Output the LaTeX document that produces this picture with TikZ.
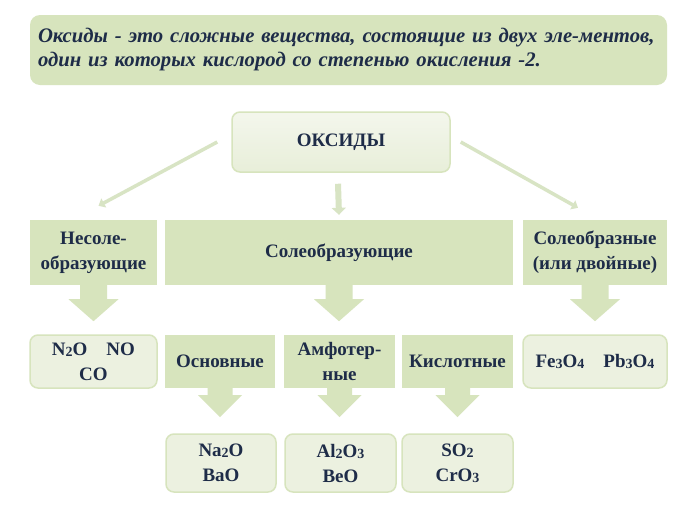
\documentclass[tikz,border=0pt]{standalone}
\usepackage{fontspec}
\setmainfont{Liberation Serif}
\usetikzlibrary{calc,arrows.meta}
\definecolor{navy}{RGB}{30,44,72}
\definecolor{boxg}{RGB}{215,228,189}
\definecolor{lightg}{RGB}{236,241,224}
\definecolor{lineg}{RGB}{216,228,196}
\newcommand{\sbs}[1]{{\fontsize{14}{12}\selectfont\raisebox{-1pt}{#1}}}
\newcommand{\bkarrow}[5]{% node, stem length, head length, stem half width, head half width
  \begin{scope}[shift={(#1.south)}]
    \fill[boxg] (-#4,-1) -- (-#4,#2) -- (-#5,#2) -- (0,{#2+#3}) -- (#5,#2) -- (#4,#2) -- (#4,-1) -- cycle;
  \end{scope}}
\tikzset{
  lbl/.style={font=\fontsize{19}{25}\selectfont\bfseries, text=navy, align=center, inner sep=0pt},
  catbox/.style={lbl, rectangle, fill=boxg},
  exbox/.style={lbl, rectangle, rounded corners=8pt, fill=lightg, draw=boxg, line width=1.5pt},
  diag/.style={draw=lineg, line width=3.5pt, -{Triangle[length=6pt,width=10pt]}},
}
\begin{document}
\begin{tikzpicture}[x=1pt,y=-1pt]
\useasboundingbox (0,0) rectangle (689,517);
\fill[white] (0,0) rectangle (689,517);

% definition
\node[rectangle, rounded corners=10pt, fill=boxg, minimum height=70pt, text width=621pt,
      inner xsep=8pt, inner ysep=0pt, align=left, text=navy,
      font=\fontsize{20.7}{24}\selectfont\bfseries\itshape] (def) at (348.5,50)
  {Оксиды - это сложные вещества, состоящие из двух эле-ментов,\\один из которых кислород со степенью окисления -2.};

% root
\node[lbl, rectangle, rounded corners=8pt, top color=lightg!60!white, bottom color=lightg!80!boxg,
      draw=boxg, line width=1.5pt, minimum width=218pt, minimum height=60pt,
      font=\fontsize{19}{24}\selectfont\bfseries] (ox) at (341,142) {ОКСИДЫ};

% categories
\node[catbox, minimum width=127pt, minimum height=65pt] (nes) at (93.5,252.5) {Несоле-\\образующие};
\node[catbox, minimum width=348pt, minimum height=65pt] (sol) at (339,252.5) {Солеобразующие};
\node[catbox, minimum width=144pt, minimum height=65pt] (dbl) at (595,252.5) {Солеобразные\\(или двойные)};

% connectors from root
\draw[diag] ($(ox.west)+(-14,0)$) -- ($(nes.north)+(5,-14)$);
\draw[diag] ($(ox.east)+(10,0)$) -- ($(dbl.north)+(-17,-12)$);
\draw[draw=lineg, line width=6pt, -{Triangle[length=7pt,width=14pt]}] ($(ox.south)+(-3,11)$) -- ($(sol.north)+(0,-5)$);

% row 3
\node[exbox, minimum width=127pt, minimum height=53pt] (n1) at (93.5,361.5) {N\sbs{2}O\quad NO\\CO};
\node[catbox, minimum width=110pt, minimum height=53pt] (osn) at (220,361.5) {Основные};
\node[catbox, minimum width=111pt, minimum height=53pt] (amf) at (339.5,361.5) {Амфотер-\\ные};
\node[catbox, minimum width=111pt, minimum height=53pt] (kis) at (457.5,361.5) {Кислотные};
\node[exbox, minimum width=144pt, minimum height=53pt] (fe) at (595,361.5) {Fe\sbs{3}O\sbs{4}\quad Pb\sbs{3}O\sbs{4}};

\bkarrow{nes}{14}{22}{13.5}{25}
\bkarrow{sol}{14}{22}{13.5}{25}
\bkarrow{dbl}{14}{22}{13.5}{25}

% row 4
\node[exbox, minimum width=110pt, minimum height=58pt] (e1) at (221,463) {Na\sbs{2}O\\BaO};
\node[exbox, minimum width=111pt, minimum height=58pt] (e2) at (340.5,463) {Al\sbs{2}O\sbs{3}\\BeO};
\node[exbox, minimum width=111pt, minimum height=58pt] (e3) at (457.5,463) {SO\sbs{2}\\CrO\sbs{3}};

\bkarrow{osn}{7}{22}{12.5}{22}
\bkarrow{amf}{7}{22}{12.5}{22}
\bkarrow{kis}{7}{22}{12.5}{22}
\end{tikzpicture}
\end{document}
